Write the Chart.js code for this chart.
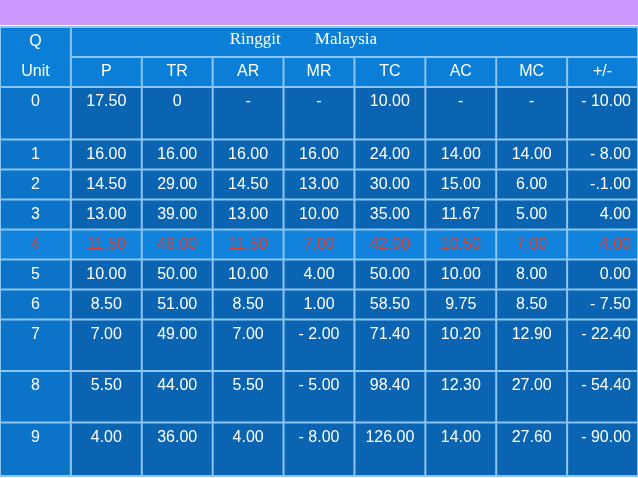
<!DOCTYPE html>
<html>
<head>
<meta charset="utf-8">
<script src="https://cdn.jsdelivr.net/npm/chart.js@4"></script>
<style>
  html, body { margin: 0; padding: 0; background: #cc99ff; }
  #wrap { width: 638px; height: 478px; }
</style>
</head>
<body>
<div id="wrap"><canvas id="tbl"></canvas></div>
<script>
// Table content
const columns = ['P', 'TR', 'AR', 'MR', 'TC', 'AC', 'MC', '+/-'];
const units = ['0', '1', '2', '3', '4', '5', '6', '7', '8', '9'];
const P  = ['17.50', '16.00', '14.50', '13.00', '11.50', '10.00', '8.50', '7.00', '5.50', '4.00'];
const TR = ['0', '16.00', '29.00', '39.00', '46.00', '50.00', '51.00', '49.00', '44.00', '36.00'];
const AR = ['-', '16.00', '14.50', '13.00', '11.50', '10.00', '8.50', '7.00', '5.50', '4.00'];
const MR = ['-', '16.00', '13.00', '10.00', '7.00', '4.00', '1.00', '- 2.00', '- 5.00', '- 8.00'];
const TC = ['10.00', '24.00', '30.00', '35.00', '42.00', '50.00', '58.50', '71.40', '98.40', '126.00'];
const AC = ['-', '14.00', '15.00', '11.67', '10.50', '10.00', '9.75', '10.20', '12.30', '14.00'];
const MC = ['-', '14.00', '6.00', '5.00', '7.00', '8.00', '8.50', '12.90', '27.00', '27.60'];
const PM = ['- 10.00', '- 8.00', '-.1.00', '4.00', '4.00', '0.00', '- 7.50', '- 22.40', '- 54.40', '- 90.00'];
const highlightRow = 4;

// relative row heights: two header rows then ten data rows
const rowWeights = [1, 1, 1.75, 1, 1, 1, 1, 1, 1, 1.72, 1.72, 1.78];

const series = [units, P, TR, AR, MR, TC, AC, MC, PM];
const rowTops = [0];
rowWeights.forEach(w => rowTops.push(rowTops[rowTops.length - 1] + w));
const totalRows = rowTops[rowTops.length - 1];

// one invisible point per cell so the scales carry the grid
const points = [];
series.forEach((col, c) => col.forEach((v, r) => points.push({ x: c + 0.5, y: rowTops[r + 2] + 0.5, t: v, r: r })));

const tablePlugin = {
  id: 'table',
  beforeDraw(chart) {
    const ctx = chart.ctx;
    const xs = chart.scales.x, ys = chart.scales.y;
    const X = v => xs.getPixelForValue(v);
    const Y = v => ys.getPixelForValue(v);
    ctx.save();
    ctx.fillStyle = '#cc99ff';
    ctx.fillRect(0, 0, chart.width, chart.height);
    ctx.fillStyle = '#ffffff';
    ctx.fillRect(0, Y(0) - 2, chart.width, chart.height);

    // cell fills
    ctx.fillStyle = '#0b7fd8';
    ctx.fillRect(X(0), Y(0), X(9) - X(0), Y(rowTops[2]) - Y(0));
    ctx.fillStyle = '#0a64b2';
    ctx.fillRect(X(1), Y(rowTops[2]), X(9) - X(1), Y(totalRows) - Y(rowTops[2]));
    ctx.fillStyle = '#0b74c8';
    ctx.fillRect(X(0), Y(rowTops[2]), X(1) - X(0), Y(totalRows) - Y(rowTops[2]));
    ctx.fillStyle = '#1283dc';
    const hr = highlightRow + 2;
    ctx.fillRect(X(0), Y(rowTops[hr]), X(9) - X(0), Y(rowTops[hr + 1]) - Y(rowTops[hr]));

    // grid lines
    ctx.strokeStyle = '#8cc4f2';
    ctx.lineWidth = 2;
    for (let r = 0; r <= rowWeights.length; r++) {
      const x0 = r === 1 ? X(1) : X(0);
      ctx.beginPath(); ctx.moveTo(x0, Y(rowTops[r])); ctx.lineTo(X(9), Y(rowTops[r])); ctx.stroke();
    }
    for (let c = 0; c <= 9; c++) {
      const y0 = (c === 0 || c === 1 || c === 9) ? Y(0) : Y(rowTops[1]);
      ctx.beginPath(); ctx.moveTo(X(c), y0); ctx.lineTo(X(c), Y(totalRows)); ctx.stroke();
    }

    // header text
    ctx.textAlign = 'center';
    ctx.textBaseline = 'middle';
    ctx.fillStyle = '#ffffff';
    ctx.font = '16px "Liberation Sans", Arial, sans-serif';
    ctx.fillText('Q', X(0.5), Y(0.5));
    ctx.fillText('Unit', X(0.5), Y(1.5));
    columns.forEach((h, i) => ctx.fillText(h, X(i + 1.5), Y(1.5)));
    ctx.font = '17px "Liberation Serif", "Times New Roman", serif';
    ctx.fillText('Ringgit', X(3.6), Y(0.42));
    ctx.fillText('Malaysia', X(4.88), Y(0.42));
    ctx.restore();
  },
  afterDatasetsDraw(chart) {
    const ctx = chart.ctx;
    const xs = chart.scales.x, ys = chart.scales.y;
    ctx.save();
    ctx.textBaseline = 'middle';
    ctx.font = '16px "Liberation Sans", Arial, sans-serif';
    points.forEach(p => {
      ctx.fillStyle = p.r === highlightRow ? '#d9412f' : '#ffffff';
      const right = p.x > 8;
      ctx.textAlign = right ? 'right' : 'center';
      const px = right ? xs.getPixelForValue(9) - 7 : xs.getPixelForValue(p.x);
      ctx.fillText(p.t, px, ys.getPixelForValue(p.y));
    });
    ctx.restore();
  }
};

new Chart(document.getElementById('tbl'), {
  type: 'scatter',
  data: { datasets: [{ data: points, pointRadius: 0, pointHoverRadius: 0 }] },
  options: {
    responsive: true,
    maintainAspectRatio: false,
    animation: false,
    events: [],
    layout: { padding: { top: 27, left: 0, right: 0, bottom: 2 } },
    plugins: { legend: { display: false }, tooltip: { enabled: false } },
    scales: {
      x: { type: 'linear', min: 0, max: 9, display: false },
      y: { type: 'linear', min: 0, max: totalRows, reverse: true, display: false }
    }
  },
  plugins: [tablePlugin]
});
</script>
</body>
</html>
